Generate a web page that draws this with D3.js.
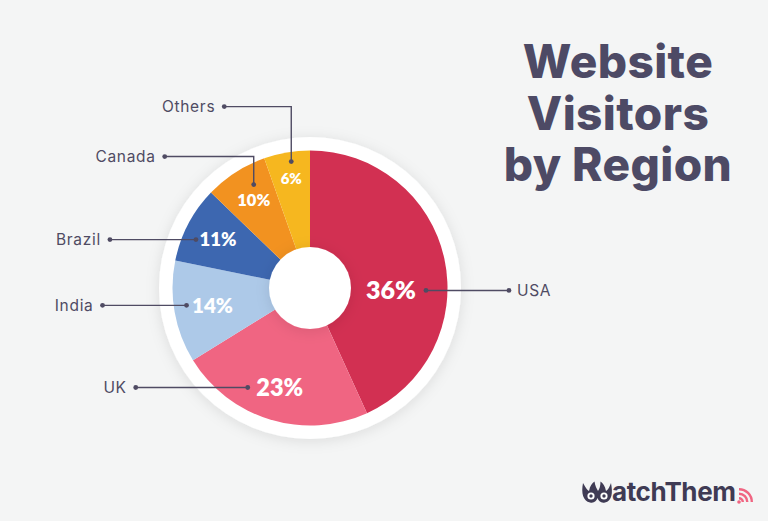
<!DOCTYPE html>
<html>
<head>
<meta charset="utf-8">
<script src="https://cdn.jsdelivr.net/npm/d3@7"></script>
<style>
  html, body { margin: 0; padding: 0; background: #f4f5f5; }
  svg { display: block; }
</style>
</head>
<body>
<svg id="chart" width="768" height="521"></svg>
<script>
// DATA
var regions = ["USA", "UK", "India", "Brazil", "Canada", "Others"];
var pctLabels = [36, 23, 14, 11, 10, 6];
// arc sizes as they are drawn in the picture (they don't follow the labels exactly)
var sliceShare = [43.2, 23.0, 12.0, 9.0, 7.4, 5.4];
var sliceColors = ["#d23052", "#f06582", "#adc9e8", "#3d67b0", "#f29220", "#f6b71f"];

var width = 768, height = 521;
var cx = 310, cy = 288;
var outerR = 137.5, holeR = 41, ringR = 151;
var ink = "#4f4b63";

const svg = d3.select("#chart");

var defs = svg.append("defs");
var shadow = defs.append("filter").attr("id", "soft")
    .attr("x", "-20%").attr("y", "-20%").attr("width", "140%").attr("height", "140%");
shadow.append("feDropShadow")
    .attr("dx", 0).attr("dy", 2)
    .attr("stdDeviation", 7)
    .attr("flood-color", "#000")
    .attr("flood-opacity", 0.10);

svg.append("rect").attr("width", width).attr("height", height).attr("fill", "#f4f5f5");

var data = regions.map((r, i) => ({
    region: r,
    pct: pctLabels[i],
    share: sliceShare[i],
    color: sliceColors[i]
}));

var pie = d3.pie()
    .sort(null)
    .value(d => d.share);

var arcs = pie(data);
var arc = d3.arc().innerRadius(0).outerRadius(outerR);

const g = svg.append("g").attr("transform", "translate(" + cx + "," + cy + ")");

// white ring behind the pie
g.append("circle")
    .attr("r", ringR)
    .attr("fill", "#fff")
    .attr("filter", "url(#soft)");

g.selectAll("path.slice")
    .data(arcs)
    .join("path")
    .attr("class", "slice")
    .attr("d", arc)
    .attr("fill", d => d.data.color);

g.append("circle")
    .attr("r", holeR)
    .attr("fill", "#fff")
    .attr("filter", "url(#soft)");

// percent labels
var labelR = [81, 104, 99, 104, 104, 111];
var labelSize = [25, 23.5, 20.5, 18.5, 16.5, 15];

function labelPos(d, i) {
    var a = (i === 0) ? Math.PI / 2 + 0.03 : (d.startAngle + d.endAngle) / 2;
    return [labelR[i] * Math.sin(a), -labelR[i] * Math.cos(a)];
}

arcs.forEach((d, i) => { d.lp = labelPos(d, i); });

g.selectAll("text.pct")
    .data(arcs)
    .join("text")
    .attr("class", "pct")
    .attr("x", d => d.lp[0])
    .attr("y", d => d.lp[1])
    .attr("text-anchor", "middle")
    .attr("dy", "0.36em")
    .attr("fill", "#fff")
    .attr("font-family", "Lato, sans-serif")
    .attr("font-weight", 800)
    .attr("font-size", (d, i) => labelSize[i])
    .text(d => d.data.pct + "%");

// callouts: where the leader starts next to the label, how long it runs, and how high it climbs
var callouts = [
    { side: "right", gap: 35, len: 83 },
    { side: "left", gap: 32, len: 112 },
    { side: "left", gap: 26, len: 84 },
    { side: "left", gap: 22, len: 86 },
    { side: "up", gap: 16, len: 89, rise: 28 },
    { side: "up", gap: 17, len: 67, rise: 55 }
];

var lines = g.append("g");
arcs.forEach((d, i) => {
    var c = callouts[i];
    var x0 = d.lp[0], y0 = d.lp[1];
    var pts, anchor;
    if (c.side === "right") {
        x0 += c.gap;
        pts = [[x0, y0], [x0 + c.len, y0]];
        anchor = "start";
    } else if (c.side === "left") {
        x0 -= c.gap;
        pts = [[x0, y0], [x0 - c.len, y0]];
        anchor = "end";
    } else {
        y0 -= c.gap;
        pts = [[x0, y0], [x0, y0 - c.rise], [x0 - c.len, y0 - c.rise]];
        anchor = "end";
    }
    lines.append("path")
        .attr("d", d3.line()(pts))
        .attr("fill", "none")
        .attr("stroke", ink)
        .attr("stroke-width", 1.4);
    [pts[0], pts[pts.length - 1]].forEach(p => {
        lines.append("circle").attr("cx", p[0]).attr("cy", p[1]).attr("r", 2.4).attr("fill", ink);
    });
    var end = pts[pts.length - 1];
    lines.append("text")
        .attr("x", end[0] + (anchor === "start" ? 8 : -9))
        .attr("y", end[1])
        .attr("dy", "0.35em")
        .attr("text-anchor", anchor)
        .attr("fill", ink)
        .attr("font-family", "Inter, 'Open Sans', sans-serif")
        .attr("font-size", 15.5)
        .attr("letter-spacing", 0.7)
        .text(d.data.region);
});

// TITLE
var titleLines = ["Website", "Visitors", "by Region"];
svg.append("g")
    .selectAll("text")
    .data(titleLines)
    .join("text")
    .attr("x", 618)
    .attr("y", (d, i) => 78 + i * 51.5)
    .attr("text-anchor", "middle")
    .attr("fill", "#4d4a65")
    .attr("font-family", "Inter, sans-serif")
    .attr("font-weight", 800)
    .attr("font-size", 46)
    .attr("letter-spacing", 0.4)
    .text(d => d);

// LOGO
var logo = svg.append("g").attr("transform", "translate(582,480)");
// hands + goggles
logo.append("path")
    .attr("d", "M1,3 C-1,13 1,21 8,22.5 C12,23.5 14.5,21 15.5,18 C16.5,21 19,23.5 23,22.5 C30,21 31,13 29,3 C27,8 26,10 24,11 C23,6 21,3 18.5,1.5 C18.5,6 17.5,9 16,11 C15,9 13,6 12.5,1.5 C10,3 8,6 7,11 C5,10 4,8 1,3 Z")
    .attr("fill", "#3f3b54");
logo.append("circle").attr("cx", 9).attr("cy", 16).attr("r", 3.6).attr("fill", "#fff");
logo.append("circle").attr("cx", 22).attr("cy", 16).attr("r", 3.6).attr("fill", "#fff");
logo.append("circle").attr("cx", 9).attr("cy", 16).attr("r", 1.7).attr("fill", "#3f3b54");
logo.append("circle").attr("cx", 22).attr("cy", 16).attr("r", 1.7).attr("fill", "#3f3b54");
logo.append("text")
    .attr("x", 30)
    .attr("y", 21)
    .attr("fill", "#3f3b54")
    .attr("font-family", "Inter, sans-serif")
    .attr("font-weight", 700)
    .attr("font-size", 26)
    .attr("letter-spacing", -0.4)
    .text("atchThem");
var sig = logo.append("g").attr("transform", "translate(157,22)");
[5, 9.5, 14].forEach(r => {
    sig.append("path")
        .attr("d", d3.arc().innerRadius(r - 2.4).outerRadius(r).startAngle(0).endAngle(Math.PI / 2)())
        .attr("fill", "#f06582");
});
sig.append("circle").attr("r", 1.8).attr("fill", "#f06582");
</script>
</body>
</html>
